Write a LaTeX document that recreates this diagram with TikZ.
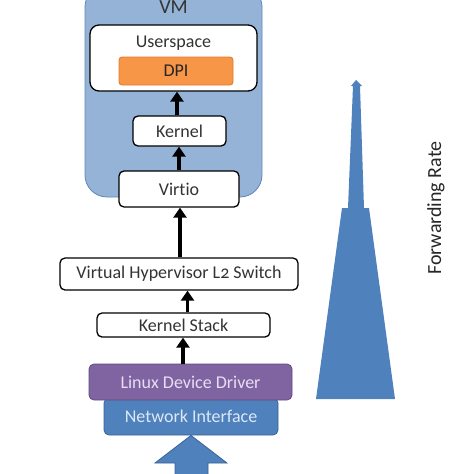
\documentclass[tikz,border=0pt]{standalone}
\usepackage{fontspec}
\setmainfont{Carlito}[Numbers=OldStyle]
\usetikzlibrary{arrows.meta}
\definecolor{vmfill}{HTML}{95B3D7}
\definecolor{vmdraw}{HTML}{5F86B8}
\definecolor{dpifill}{HTML}{F79646}
\definecolor{dpidraw}{HTML}{E07B2C}
\definecolor{purp}{HTML}{8064A2}
\definecolor{purpdraw}{HTML}{5E4A7C}
\definecolor{ofblue}{HTML}{4F81BD}
\definecolor{ofbluedraw}{HTML}{3A6396}
\definecolor{ldtext}{HTML}{E8DDF2}
\definecolor{nitext}{HTML}{DCE8F6}
\begin{document}
\begin{tikzpicture}[x=1pt,y=-1pt,
  lbl/.style={font=\fontsize{18}{20}\selectfont,text=black!80},
  wbox/.style={draw=black,line width=1.3pt,fill=white,rounded corners=5pt,inner sep=0pt,lbl},
  uparrow/.style={line width=3.8pt,-{Triangle[width=13pt,length=10pt]}}]
\useasboundingbox (0,0) rectangle (474,474);
% VM container
\node[draw=vmdraw,line width=0.8pt,fill=vmfill,rounded corners=22pt,minimum width=177pt,minimum height=212pt,inner sep=0pt] (vm) at (173.5,91) {};
\node[lbl,font=\fontsize{20}{21}\selectfont,anchor=base,inner sep=0pt] (vmlabel) at (173.5,13.5) {VM};
% Userspace
\node[wbox,rounded corners=9pt,minimum width=167pt,minimum height=66pt] (user) at (173.5,58) {};
\node[lbl] (userlabel) at (173.5,43) {Userspace};
\node[draw=dpidraw,line width=0.8pt,fill=dpifill,rounded corners=3pt,minimum width=114pt,minimum height=28pt,inner sep=0pt,lbl,text=black!85] (dpi) at (176,71) {DPI};
% Kernel, Virtio
\node[wbox,minimum width=93pt,minimum height=30pt] (kernel) at (179.5,131) {Kernel};
\node[wbox,minimum width=120pt,minimum height=36pt] (virtio) at (179,189) {Virt\kern0pt io};
% Switch, Kernel stack
\node[wbox,minimum width=238pt,minimum height=32pt] (switch) at (179,274) {Virtual Hypervisor L2 Switch};
\node[wbox,minimum width=173pt,minimum height=24pt] (kstack) at (183.5,325) {Kernel Stack};
% Network interface and driver
\node[draw=ofbluedraw,line width=0.8pt,fill=ofblue,rounded corners=5pt,minimum width=174pt,minimum height=37pt,inner sep=0pt,lbl,text=nitext] (ni) at (191,416.5) {\raisebox{-1pt}{Network Interface}};
\node[draw=purpdraw,line width=0.8pt,fill=purp,rounded corners=5pt,minimum width=203pt,minimum height=36pt,inner sep=0pt,lbl,text=ldtext] (ldd) at (190.5,382) {Linux Device Driver};
% small arrows
\draw[uparrow] ([xshift=-2.5pt]kernel.north) -- ([xshift=-2.5pt]kernel.north |- user.south);
\draw[uparrow] (virtio.north) -- (virtio.north |- kernel.south);
\draw[uparrow] ([xshift=1pt]switch.north) -- ([xshift=1pt]switch.north |- virtio.south);
\draw[uparrow] ([xshift=4pt]kstack.north) -- ([xshift=4pt]kstack.north |- switch.south);
\draw[uparrow] ([xshift=-7.5pt]ldd.north) -- ([xshift=-7.5pt]ldd.north |- kstack.south);
% big input arrow
\coordinate (bigtip) at (ni.south);
\draw[draw=ofbluedraw,line width=0.8pt,fill=ofblue] (bigtip) -- (227,463) -- (208,463) -- (208,480) -- (175,480) -- (175,463) -- (155,463) -- cycle;
% forwarding rate tower
\fill[ofblue] (356,80) -- (362,86) -- (360,86) -- (364,208) -- (369,208) -- (395,399) -- (316,399) -- (342,208) -- (348,208) -- (353,86) -- (351,86) -- cycle;
\node[lbl,font=\fontsize{20}{22}\selectfont,rotate=90,text=black!85] (frate) at (436,208) {Forwarding Rate};
\end{tikzpicture}
\end{document}
